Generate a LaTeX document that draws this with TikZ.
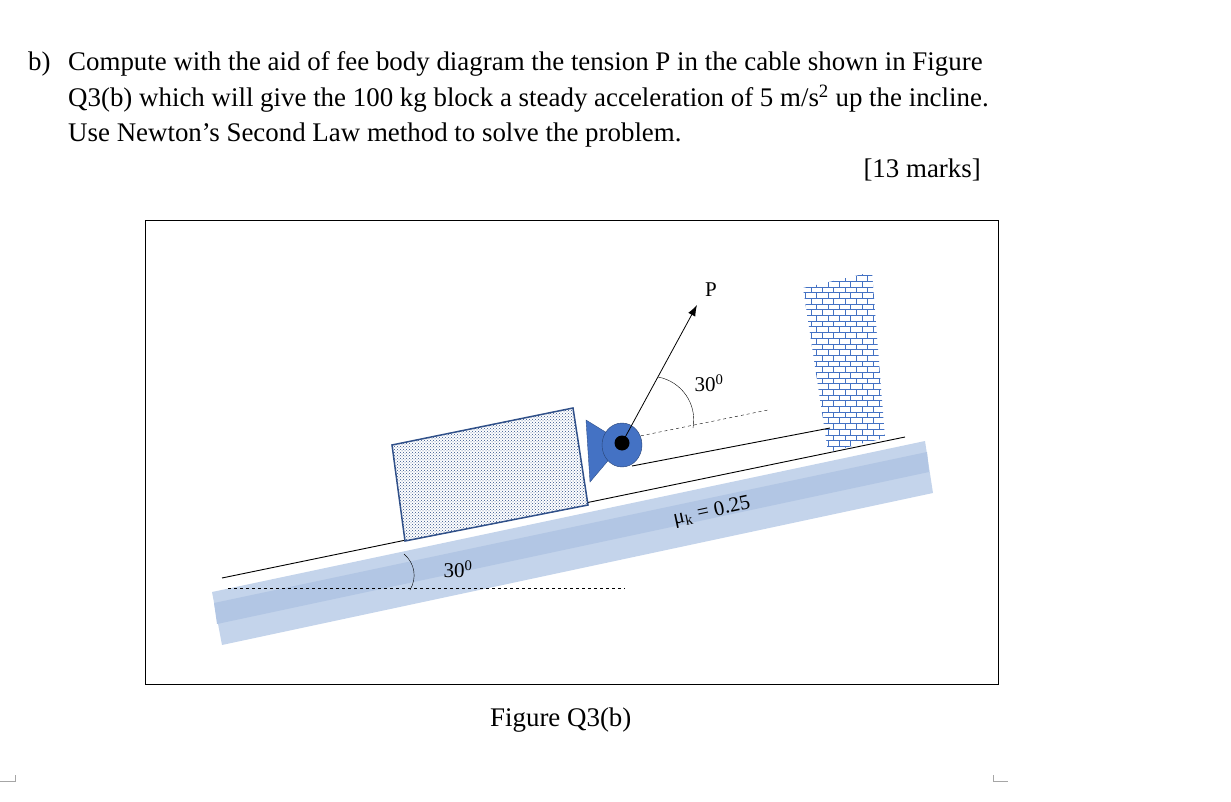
\documentclass[tikz,border=0pt]{standalone}
\usepackage{fontspec}
\setmainfont{Liberation Serif}
\usetikzlibrary{patterns,arrows.meta}
\definecolor{strip}{RGB}{196,212,235}
\definecolor{stripd}{RGB}{178,198,228}
\definecolor{steel}{RGB}{68,114,196}
\tikzset{txt/.style={anchor=base west,inner sep=0,font=\fontsize{26.9}{30}\selectfont},
lbl/.style={inner sep=0,font=\fontsize{21}{24}\selectfont}}
\begin{document}
\begin{tikzpicture}[x=1pt,y=-1pt]
\useasboundingbox (0,0) rectangle (1231,802);
\node[txt] (b) at (28,71) {b)};
\node[txt] (l1) at (68,71) {Compute with the aid of fee body diagram the tension P in the cable shown in Figure};
\node[txt] (l2) at (68,107) {Q3(b) which will give the 100 kg block a steady acceleration of 5 m/s\textsuperscript{2} up the incline.};
\node[txt] (l3) at (68,142) {Use Newton’s Second Law method to solve the problem.};
\node[txt,anchor=base east] (mk) at (981,178) {[13 marks]};
\draw[line width=0.8pt] (145,220) rectangle (998,684);
% incline strip
\fill[strip] (212,592) -- (925,441) -- (933,493) -- (222,645) -- cycle;
\fill[stripd] (214,603) -- (927,452) -- (929,472) -- (217,624) -- cycle;
\draw[line width=0.9pt] (222,578) -- (905,437);
\draw[dashed] (228,588) -- (625,588);
\draw (404,554) to[bend left=40] (410,590);
\node[lbl] (a1) at (458,569) {30\textsuperscript{0}};
% block
\fill[white] (392,445) -- (573,408) -- (588,505) -- (405,541) -- cycle;
\fill[pattern=crosshatch dots,pattern color=steel!70!black] (392,445) -- (573,408) -- (588,505) -- (405,541) -- cycle;
\draw[steel!70!black,line width=1.5pt] (392,445) -- (573,408) -- (588,505) -- (405,541) -- cycle;
% wall
\fill[pattern=bricks,pattern color=steel] (803,288) -- (872,272) -- (885,438) -- (828,452) -- cycle;
% rope
\draw[line width=0.9pt] (632,466) -- (830,428);
\draw[dashed] (635,437) -- (768,410);
% pulley
\fill[steel,draw=steel!70!black] (586,420) -- (612,436) -- (612,456) -- (590,482) -- cycle;
\fill[steel,draw=steel!60!black] (622,445) ellipse (20 and 22);
\fill (622,443) circle (7.5);
\coordinate (c) at (622,443);
\coordinate (pt) at (697,305);
\draw[-{Latex[length=11pt,width=8pt]},line width=0.8pt] (c) -- (pt);
\node[lbl] (p) at (711,290) {P};
\draw (658,377) to[bend left=45] (693,428);
\node[lbl] (a2) at (709,383) {30\textsuperscript{0}};
\node[lbl,rotate=12] (mu) at (712,512) {μ\textsubscript{k} = 0.25};
\node[txt] (fig) at (490,726) {Figure Q3(b)};
\draw[gray!70] (0,781) -- (15,781) -- (15,775);
\draw[gray!70] (993,775) -- (993,781) -- (1008,781);
\end{tikzpicture}
\end{document}
